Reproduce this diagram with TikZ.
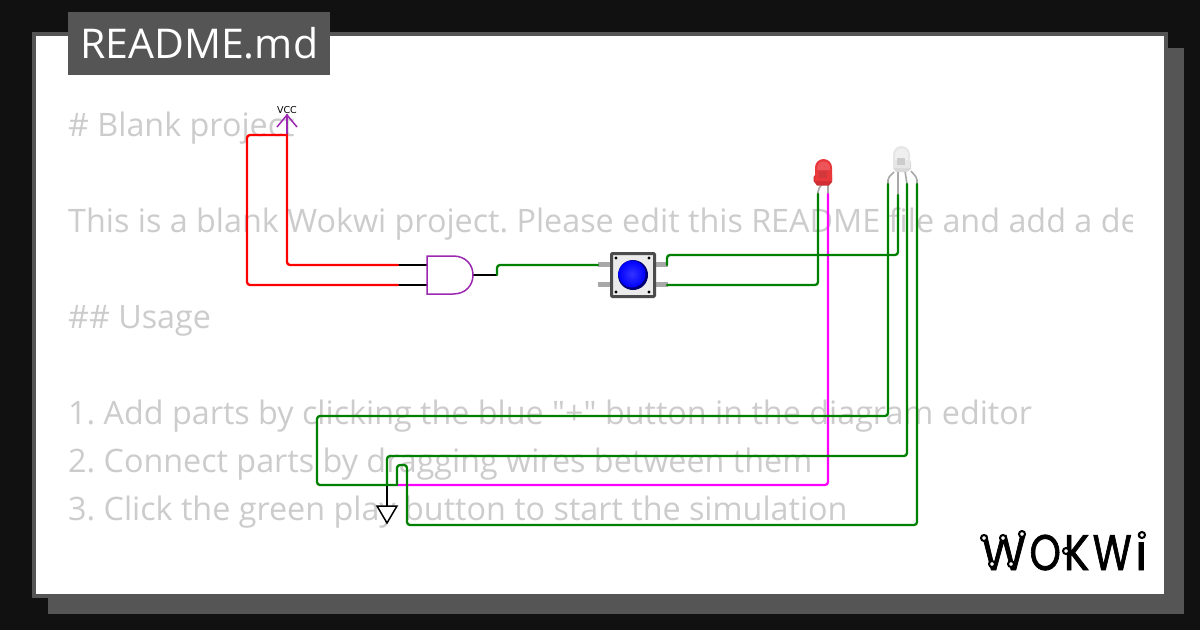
\documentclass[tikz,border=0pt]{standalone}
\usepackage{fontspec}
\newfontfamily\mdfont{Open Sans}
\newfontfamily\logofont[FakeBold=1.6]{Poppins}
\newfontfamily\vccfont{DejaVu Sans}
\frenchspacing
\definecolor{bgdark}{HTML}{111111}
\definecolor{panelgrey}{HTML}{555555}
\definecolor{mdgrey}{HTML}{CCCCCC}
\definecolor{wgreen}{HTML}{008000}
\definecolor{wred}{HTML}{FF0000}
\definecolor{wmag}{HTML}{FF00FF}
\definecolor{gatepurple}{HTML}{9C27B0}
\definecolor{pingrey}{HTML}{A8A8A8}
\definecolor{ledbody}{HTML}{E8383C}
\definecolor{ledrim}{HTML}{D03034}
\definecolor{ledglow}{HTML}{EE5558}
\definecolor{ledinner}{HTML}{D0383C}
\definecolor{rgbbody}{HTML}{E6E6E6}
\definecolor{rgbrim}{HTML}{D8D8D8}
\definecolor{rgbglow}{HTML}{EFEFEF}
\definecolor{rgbinner}{HTML}{CCCCCC}
\tikzset{
  x=1pt,y=-1pt,
  mdline/.style={anchor=base west,inner sep=0pt,text=mdgrey,font=\mdfont\fontsize{32.3}{32.3}\selectfont},
  wire/.style={line width=2.3pt,rounded corners=3pt,line cap=round},
  greenwire/.style={wire,draw=wgreen},
  redwire/.style={wire,draw=wred},
  magwire/.style={wire,draw=wmag},
  stub/.style={line width=1.5pt,draw=black},
  gate/.style={line width=1.5pt,draw=gatepurple,fill=white},
  pin/.style={fill=pingrey,draw=none},
  leadpin/.style={line width=1.6pt,draw=pingrey,rounded corners=2pt},
  logodot/.style={draw=black,fill=white,line width=2pt},
}
\newcommand{\logoletter}[3]{\makebox[#1pt][c]{\scalebox{#2}[1]{#3}}}
\begin{document}
\begin{tikzpicture}
\useasboundingbox (0,0) rectangle (1200,630);
\fill[bgdark] (0,0) rectangle (1200,630);
\fill[panelgrey] (48,48) rectangle (1184,614);
\fill[panelgrey] (32,32) rectangle (1168,598);
\fill[white] (36,36) rectangle (1164,594);
% markdown text
\begin{scope}
\clip (68,90) rectangle (1132,530);
\node[mdline] (l1) at (68,136) {\# Blank project};
\node[mdline] (l2) at (68,232) {This is a blank Wokwi project. Please edit this README file and add a de};
\node[mdline] (l3) at (68,328) {\#\# Usage};
\node[mdline] (l4) at (68,424) {1. Add parts by clicking the blue "+" button in the diagram editor};
\node[mdline] (l5) at (68,472) {2. Connect parts by dragging wires between them};
\node[mdline] (l6) at (68,520) {3. Click the green play button to start the simulation};
\end{scope}
% title
\fill[panelgrey] (68,12) rectangle (330,75);
\node[anchor=base west,inner sep=0pt,text=white,font=\mdfont\fontsize{41}{41}\selectfont] (title) at (80,58) {README.md};
% pin coordinates
\coordinate (vcc) at (287,135);
\coordinate (andA) at (398,265);
\coordinate (andB) at (398,285);
\coordinate (andO) at (497,275);
\coordinate (btnL) at (598,265);
\coordinate (btnRa) at (667,265);
\coordinate (btnRb) at (667,285);
\coordinate (ledA) at (818,194);
\coordinate (ledC) at (828,194);
\coordinate (rgbR) at (888,184);
\coordinate (rgbC) at (898,195);
\coordinate (rgbG) at (907,184);
\coordinate (rgbB) at (917,184);
\coordinate (gnd) at (387,485);
% VCC
\draw[line width=1.5pt,draw=gatepurple] (vcc) -- (287,114);
\draw[line width=1.5pt,draw=gatepurple] (277,127) -- (287,115) -- (297,127);
\node[inner sep=0pt,font=\vccfont\fontsize{9.5}{9.5}\selectfont] (vcctext) at (287,110) {VCC};
% AND gate
\draw[stub] (398,265) -- (427,265);
\draw[stub] (398,285) -- (427,285);
\draw[stub] (473,275) -- (andO);
\draw[gate] (427,256) -- (453,256) .. controls (466,256) and (473,265) .. (473,275) .. controls (473,285) and (466,294) .. (453,294) -- (427,294) -- cycle;
% GND
\draw[line width=1.5pt] (gnd) -- (387,506);
\draw[line width=1.5pt,fill=white] (377,506) -- (397,506) -- (387,523) -- cycle;
% button
\fill[pin] (598,262) rectangle (611,267);
\fill[pin] (598,282) rectangle (611,287);
\fill[pin] (655,262) rectangle (668,267);
\fill[pin] (655,282) rectangle (668,287);
\draw[line width=3pt,draw=black!70,fill=black!8,rounded corners=1pt] (611.5,253.5) rectangle (654.5,296.5);
\foreach \px/\py in {616/258,649/258,616/292,649/292} \fill (\px,\py) circle (1.6);
\fill[blue!45!black] (633,275) circle (15);
\shade[inner color=blue!80!white,outer color=blue] (632,274) circle (13.5);
% red LED
\draw[leadpin] (ledA) -- (818,190) -- (822,184);
\draw[leadpin] (ledC) -- (828,184);
\fill[ledrim] (815,175) -- (832,175) -- (832,182) -- (829,185.5) -- (817,185.5) -- (813.5,181) -- (813.5,177) -- cycle;
\fill[ledbody] (815,181) -- (815,167.5) arc[start angle=180,end angle=360,radius=8.5] -- (832,181) -- cycle;
\fill[ledglow] (817,168) arc[start angle=180,end angle=360,radius=6.5] -- (830,170) -- (817,170) -- cycle;
\fill[ledinner] (819,171) -- (827,171) -- (827,178) -- (819,178) -- cycle;
% RGB LED
\draw[leadpin] (rgbR) -- (888,178) -- (894,172);
\draw[leadpin] (rgbC) -- (898,172);
\draw[leadpin] (rgbG) -- (905,171);
\draw[leadpin] (rgbB) -- (917,178) -- (911,171);
\fill[rgbrim] (893,160) -- (910,160) -- (911,163) -- (911,169) -- (907,172) -- (896,172) -- (893,168) -- cycle;
\fill[rgbbody] (893,168) -- (893,154.5) arc[start angle=180,end angle=360,radius=8.5] -- (910,168) -- cycle;
\fill[rgbglow] (895,155) arc[start angle=180,end angle=360,radius=6.5] -- (908,160) -- (895,160) -- cycle;
\fill[rgbinner] (897,158) -- (905,158) -- (905,165) -- (897,165) -- cycle;
% wires
\draw[magwire] (ledC) -- (828,485) -- (397,485);
\draw[redwire] (vcc) -- (287,265) -- (andA);
\draw[redwire] (vcc) -- (247,135) -- (247,285) -- (andB);
\draw[greenwire] (andO) -- (497,265) -- (btnL);
\draw[greenwire] (btnRa) -- (667,255) -- (898,255) -- (rgbC);
\draw[greenwire] (btnRb) -- (818,285) -- (ledA);
\draw[greenwire] (rgbR) -- (888,416) -- (317,416) -- (317,485) -- (397,485);
\draw[greenwire] (rgbG) -- (907,456) -- (387,456) -- (gnd);
\draw[greenwire] (rgbB) -- (917,525) -- (407,525) -- (407,465) -- (397,465) -- (397,485);
% logo
\node[anchor=base west,inner sep=0pt,font=\logofont\fontsize{50}{50}\selectfont] (logo) at (980,570)
  {\logoletter{47}{0.92}{W}\logoletter{36}{0.8}{O}\logoletter{27}{0.85}{K}\logoletter{44}{0.8}{W}\logoletter{14}{1}{i}};
\foreach \cx/\cy in {984/538,1003/538,1022/534,992/564,1011/564,1066/551,1142/535}
  \draw[logodot] (\cx,\cy) circle (3);
\end{tikzpicture}
\end{document}
